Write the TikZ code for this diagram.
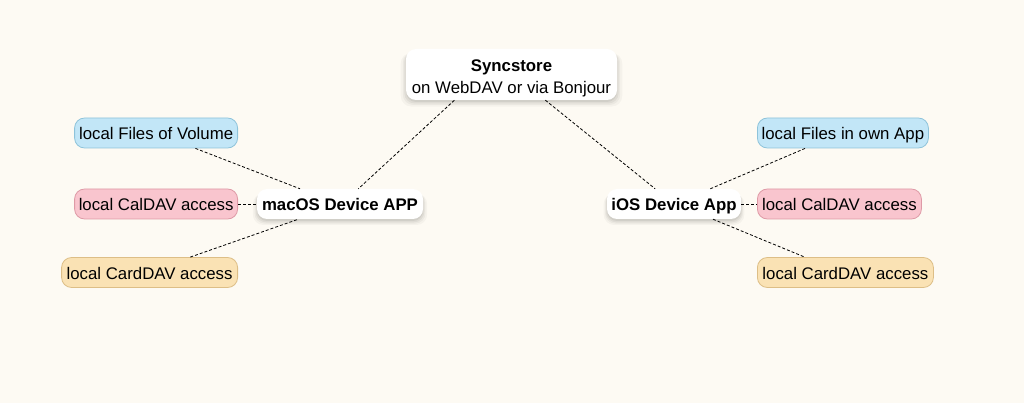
\documentclass[tikz,border=0pt]{standalone}
\usepackage{fontspec}
\setmainfont{Liberation Sans}
\usetikzlibrary{shadows,calc}
\definecolor{bgc}{HTML}{FDFAF3}
\definecolor{bluef}{HTML}{C2E6F7}
\definecolor{blued}{HTML}{8EC3DA}
\definecolor{pinkf}{HTML}{F9C5CE}
\definecolor{pinkd}{HTML}{DE9AA6}
\definecolor{yelf}{HTML}{FAE2B4}
\definecolor{yeld}{HTML}{DDBE86}
\tikzset{
  x=1pt,y=-1pt,
  base/.style={rounded corners=10pt,inner sep=0pt,minimum height=30pt,text height=13.5pt,text depth=0pt,font=\fontsize{16.8}{20}\selectfont,align=center},
  leaf/.style={base,draw=#1d,fill=#1f,line width=0.8pt},
  hub/.style={base,fill=white,font=\fontsize{16.8}{20}\selectfont\bfseries,
    general shadow={shadow xshift=0pt,shadow yshift=-5pt,fill=black,opacity=0.03,shadow scale=1.05},
    general shadow={shadow xshift=0pt,shadow yshift=-4pt,fill=black,opacity=0.04,shadow scale=1.03},
    general shadow={shadow xshift=0pt,shadow yshift=-3pt,fill=black,opacity=0.05,shadow scale=1.015},
    general shadow={shadow xshift=0pt,shadow yshift=-2pt,fill=black,opacity=0.06,shadow scale=1.0}},
  txt/.style={inner sep=0pt,anchor=base,font=\fontsize{16.8}{20}\selectfont},
  link/.style={dashed,dash pattern=on 3pt off 2pt,line width=0.8pt,black}
}
\begin{document}
\begin{tikzpicture}
\fill[bgc] (0,0) rectangle (1024,403);
\useasboundingbox (0,0) rectangle (1024,403);
\node[hub,minimum width=211pt,minimum height=51pt] (sync) at (511.5,74.5) {};
\node[txt,font=\fontsize{16.8}{20}\selectfont\bfseries] (synct1) at (511.5,71.7) {Syncstore};
\node[txt] (synct2) at (511.5,93.3) {on WebDAV or via Bonjour};
\node[hub,minimum width=166pt] (mac) at (340,204) {macOS Device APP};
\node[hub,minimum width=134pt] (ios) at (674,204) {iOS Device App};
\node[leaf=blue,minimum width=163pt,anchor=east] (lfv) at (238,133) {local Files of Volume};
\node[leaf=pink,minimum width=163pt,anchor=east] (lcal) at (238,204) {local CalDAV access};
\node[leaf=yel,minimum width=176pt,anchor=east] (lcard) at (238,272.5) {local CardDAV access};
\node[leaf=blue,minimum width=171pt,anchor=west] (rfa) at (757,133) {local Files in own App};
\node[leaf=pink,minimum width=164pt,anchor=west] (rcal) at (757,204) {local CalDAV access};
\node[leaf=yel,minimum width=176pt,anchor=west] (rcard) at (757,272.5) {local CardDAV access};
\draw[link] ($(sync.south west)!0.23!(sync.south east)$) -- ($(mac.north west)!0.61!(mac.north east)$);
\draw[link] ($(sync.south west)!0.66!(sync.south east)$) -- ($(ios.north west)!0.36!(ios.north east)$);
\draw[link] ($(lfv.south west)!0.74!(lfv.south east)$) -- ($(mac.north west)!0.26!(mac.north east)$);
\draw[link] (lcal.east) -- (mac.west);
\draw[link] ($(lcard.north west)!0.73!(lcard.north east)$) -- ($(mac.south west)!0.25!(mac.south east)$);
\draw[link] ($(ios.north west)!0.77!(ios.north east)$) -- ($(rfa.south west)!0.28!(rfa.south east)$);
\draw[link] (ios.east) -- (rcal.west);
\draw[link] ($(ios.south west)!0.79!(ios.south east)$) -- ($(rcard.north west)!0.27!(rcard.north east)$);
\end{tikzpicture}
\end{document}
